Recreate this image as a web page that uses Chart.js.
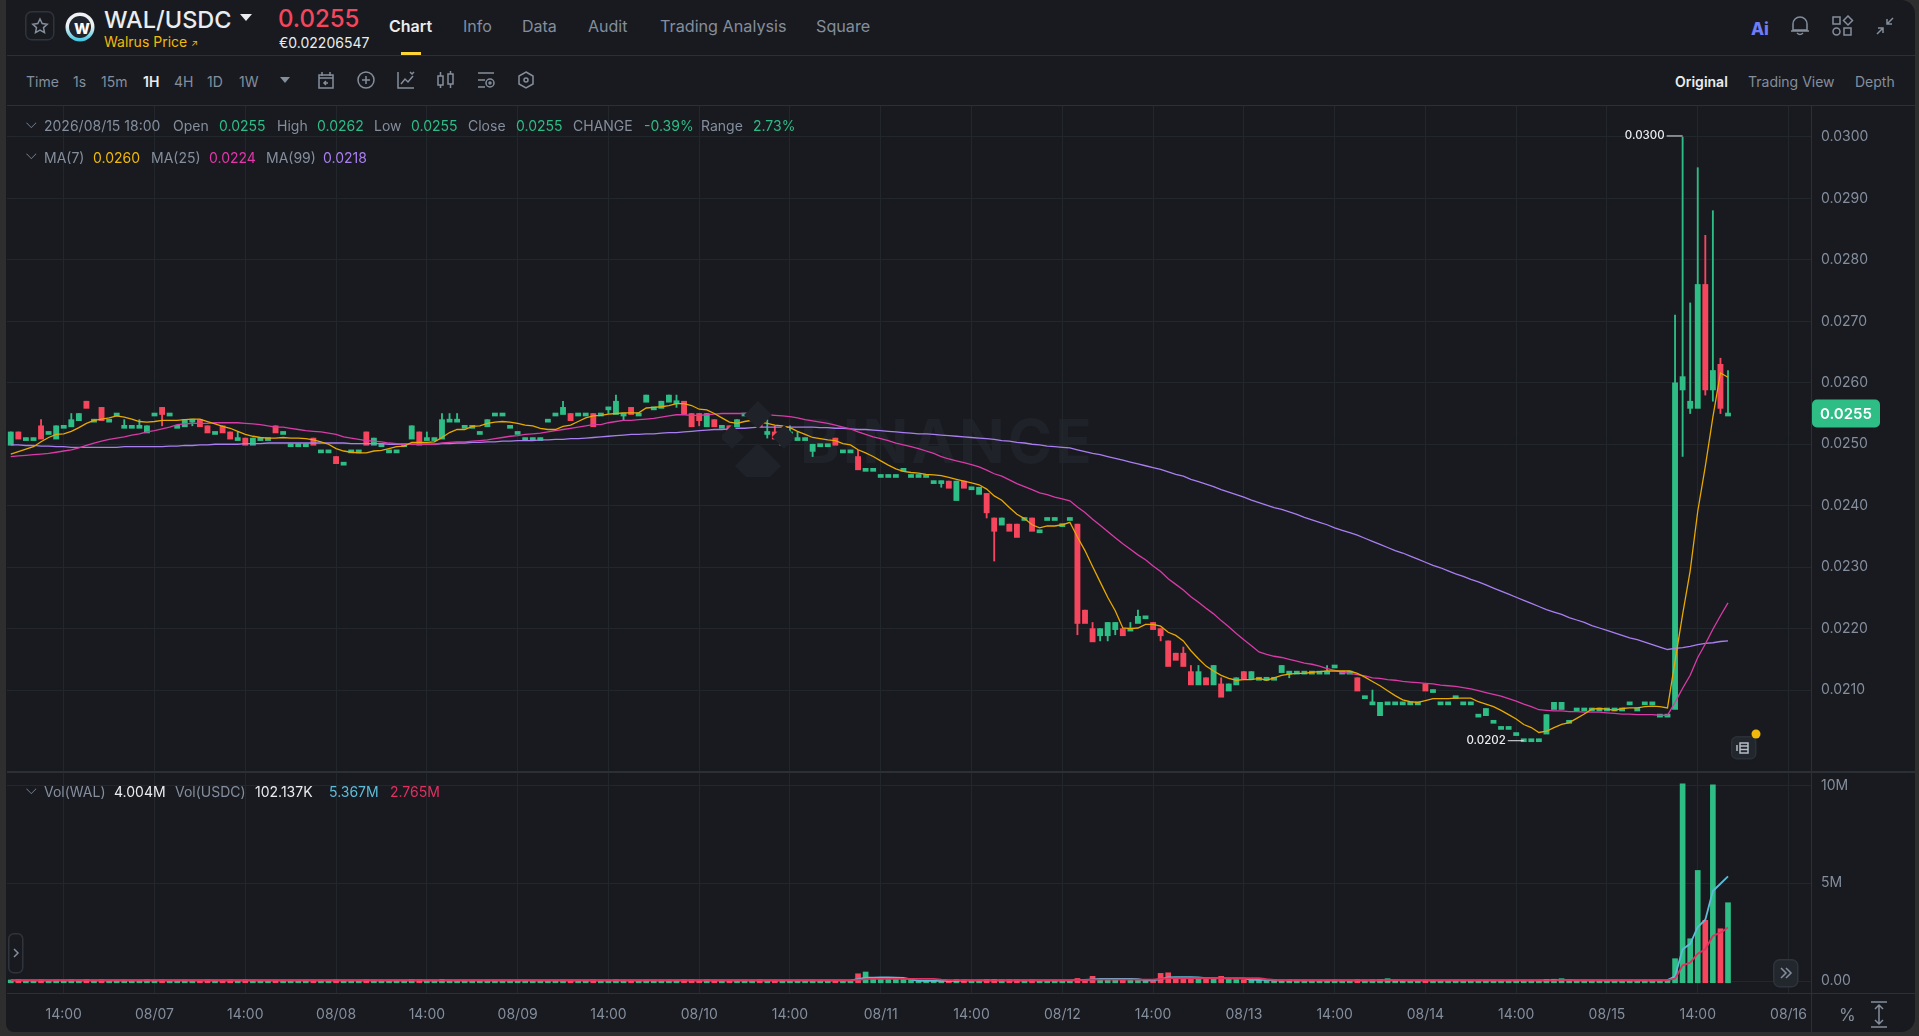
<!DOCTYPE html>
<html>
<head>
<meta charset="utf-8">
<title>WAL/USDC</title>
<script src="https://cdn.jsdelivr.net/npm/chart.js@4"></script>
<style>
html, body { margin: 0; padding: 0; width: 1919px; height: 1036px; overflow: hidden; background: #2e2e2e; }
#panel { position: absolute; left: 6px; top: 0; width: 1909px; height: 1032px; background: #181a20; border-radius: 0 14px 14px 8px; }
canvas { position: absolute; }
.t { position: absolute; white-space: nowrap; transform: translateY(-50%); font-family: Inter, sans-serif; font-size: 14px; color: #848e9c; z-index: 5; }
.line { position: absolute; background: #2b2f36; z-index: 4; }
svg { position: absolute; z-index: 5; fill: none; stroke: #848e9c; stroke-width: 1.5; }
#mark { position: absolute; left: 800px; top: 405px; font: 700 60px Inter, sans-serif; letter-spacing: 3px; color: #1f2229; }
</style>
</head>
<body>
<div id="panel"></div>
<div id="mark">BINANCE</div>
<svg style="left:722px;top:401px;stroke:none;fill:#1f2229" width="72" height="76" viewBox="0 0 72 76"><path d="M36 0l14 14-14 14-14-14zM10 24l12 12-12 12L-2 36zM62 24l12 12-12 12-12-12zM36 42l23 23-11 11H24L13 65z"/></svg>
<canvas id="priceChart" width="1908" height="665" style="left:7px;top:106px"></canvas>
<canvas id="volChart" width="1908" height="259" style="left:7px;top:773px"></canvas>

<div class="line" style="left:7px;top:55px;width:1908px;height:1px"></div>
<div class="line" style="left:7px;top:105px;width:1908px;height:1px"></div>
<div class="line" style="left:7px;top:771px;width:1908px;height:2px"></div>
<div class="line" style="left:7px;top:993px;width:1908px;height:1px"></div>
<div class="line" style="left:1811px;top:105px;width:1px;height:927px"></div>
<!-- the plot runs a few pixels under the axis line, hide those grid ends but not the price tag -->
<div style="position:absolute;left:1812px;top:106px;width:4px;height:293px;background:#181a20;z-index:1"></div>
<div style="position:absolute;left:1812px;top:429px;width:4px;height:342px;background:#181a20;z-index:1"></div>
<div style="position:absolute;left:1812px;top:773px;width:4px;height:220px;background:#181a20;z-index:1"></div>
<div style="position:absolute;left:401px;top:52px;width:20px;height:3px;background:#fcd535;z-index:5"></div>

<!-- header icons -->
<svg style="left:25px;top:11px" width="30" height="30"><rect x=".75" y=".75" width="28" height="28" rx="6" stroke="#2f343c"/><path d="M15 8l2.2 4.6 5 .6-3.7 3.4 1 5L15 19.200l-4.500 2.400 1-5-3.700-3.400 5-.6z"/></svg>
<svg style="left:65px;top:12px;stroke:none" width="30" height="30"><defs><linearGradient id="lg" x1="0" y1="0" x2="0" y2="1"><stop offset=".45" stop-color="#eef2f5"/><stop offset="1" stop-color="#39c6e0"/></linearGradient></defs><circle cx="15" cy="15" r="14.500" fill="url(#lg)"/><circle cx="15" cy="15" r="11" fill="#20242c"/></svg>
<svg style="left:240px;top:14px;stroke:none;fill:#eaecef" width="12" height="8"><path d="M0 0h12L6 7z"/></svg>
<svg style="left:280px;top:77px;stroke:none;fill:#848e9c" width="10" height="7"><path d="M0 0h10L5 6z"/></svg>
<svg style="left:316px;top:70px" width="20" height="20"><path d="M3 5h14v13H3zM3 8h14M6 2v4M14 2v4M12 13H8M10 11l-2 2 2 2"/></svg>
<svg style="left:356px;top:70px" width="20" height="20"><circle cx="10" cy="10" r="8"/><path d="M6 10h8M10 6v8"/></svg>
<svg style="left:396px;top:70px" width="20" height="20"><path d="M2 2v16h16M5 14l4-5 3 3 5-6M14 2l2 2 2-2"/></svg>
<svg style="left:436px;top:70px" width="20" height="20"><path d="M2 6h5v9H2zM12 4h5v10h-5zM4.500 2v4M4.500 15v3M14.500 1v3M14.500 14v4"/></svg>
<svg style="left:476px;top:70px" width="20" height="20"><path d="M2 3h16M2 10h7M2 17h7"/><circle cx="14" cy="13" r="4"/><circle cx="14" cy="13" r="1"/></svg>
<svg style="left:516px;top:70px" width="20" height="20"><path d="M10 2l7 4v8l-7 4-7-4V6z"/><circle cx="10" cy="10" r="2"/></svg>
<svg style="left:1790px;top:15px" width="20" height="22"><path d="M3 15V9a7 7 0 0 1 14 0v6zM1 16h18M7 18q3 3 6 0"/></svg>
<svg style="left:1832px;top:15px" width="22" height="22"><rect x="1" y="2" width="7" height="7"/><path d="M16 1l4.500 4.500L16 10l-4.500-4.500z"/><circle cx="4.500" cy="16.500" r="3.500"/><rect x="12" y="13" width="7" height="7"/></svg>
<svg style="left:1876px;top:17px" width="18" height="18"><path d="M17 1l-6 6M11 2v5h5M1 17l6-6M7 16v-5H2"/></svg>
<svg style="left:1731px;top:736px" width="30" height="24"><rect x=".75" y=".75" width="24" height="22" rx="5" fill="#22262d" stroke="#2b2f36"/><path d="M9 7h8v10H9zM9 10h8M9 13.500h8M6 9v6" stroke="#b7bdc6"/></svg>
<svg style="left:1751px;top:729px;stroke:none;fill:#f0b90b" width="10" height="10"><circle cx="5" cy="5" r="4.500"/></svg>
<svg style="left:1773px;top:959px" width="26" height="29"><rect x=".75" y=".75" width="24" height="27" rx="6" fill="#22262d" stroke="#2f343c"/><path d="M8 9l5 5-5 5M13 9l5 5-5 5"/></svg>
<svg style="left:8px;top:933px" width="16" height="41"><rect x=".75" y=".75" width="14" height="39" rx="5" stroke="#2f343c"/><path d="M6 16l4 4-4 4"/></svg>
<svg style="left:1870px;top:1001px" width="18" height="28"><path d="M1 1h16M1 26h16M9 4v19M5 8l4-4 4 4M5 19l4 4 4-4"/></svg>

<script>
// all prices below are in ticks of 0.0001, volumes in millions
var tickSize = 0.0001;

var xTickLabels = ['14:00','08/07','14:00','08/08','14:00','08/09','14:00','08/10','14:00','08/11',
    '14:00','08/12','14:00','08/13','14:00','08/14','14:00','08/15','14:00','08/16'];
var priceTicks = [210,220,230,240,250,260,270,280,290,300];
var volTicks = [0,5,10];

var opens = [
    250,252,251,251,253,252,251,253,253,254, 257,254,256,254,255,253,253,253,252,255,
    256,255,253,253,254,254,253,252,253,252, 251,251,250,251,251,253,252,250,250,250,
    251,249,249,248,247,249,249,252,250,250, 249,249,250,251,252,251,251,251,254,254,
    253,253,252,253,255,255,253,252,251,251, 251,254,255,255,255,255,255,255,255,256,
    255,255,256,255,257,256,256,257,257,257, 255,255,253,254,253,253,253,255,255,255,
    252,252,250,251,251,251,249,250,250,251, 249,249,248,246,246,245,245,245,246,245,
    245,245,244,244,244,241,244,243,242,242, 238,237,237,237,238,238,236,238,238,237,
    238,237,223,220,219,219,220,220,220,221, 222,221,220,218,216,216,213,211,212,211,
    211,210,211,213,212,212,212,212,213,213, 213,213,213,213,213,214,213,213,212,209,
    208,206,208,208,208,208,208,211,210,208, 208,209,208,208,206,206,205,204,204,203,
    202,202,202,203,207,207,205,207,207,207, 207,207,207,207,208,207,208,208,206,206,
    207,259,256,256,276,259,263,255];
var closes = [
    252,251,251,251,251,252,253,253,254,255, 256,254,254,254,255,253,253,253,253,255,
    255,255,253,254,254,253,252,252,252,251, 251,250,251,251,251,252,252,250,250,250,
    250,249,249,247,247,249,249,250,251,250, 249,249,250,253,250,251,251,254,254,254,
    253,253,252,254,255,255,253,252,251,251, 251,254,255,256,254,255,255,253,255,256,
    257,255,255,255,258,256,257,258,257,255, 253,254,255,253,253,252,254,255,255,253,
    252,251,251,252,251,251,250,250,250,250, 249,249,246,246,246,245,245,245,246,245,
    245,245,244,244,243,244,243,243,243,239, 236,238,236,235,238,236,236,238,238,237,
    238,221,221,218,220,221,221,219,220,222, 222,220,219,214,215,214,211,213,211,214,
    209,211,212,212,213,212,212,212,214,213, 213,213,213,213,213,214,213,213,210,209,
    208,208,208,208,208,208,208,210,210,208, 208,209,208,208,206,207,205,204,204,203,
    202,202,202,206,208,208,205,207,207,207, 207,207,207,207,208,207,208,208,206,206,
    260,261,257,276,259,262,256,255];
var highs = [
    252,252,251,251,254,252,253,253,255,255, 257,254,256,254,255,254,253,254,253,255,
    256,255,253,254,254,254,253,252,253,252, 252,251,251,251,251,253,252,250,250,250,
    251,249,249,248,247,249,249,252,251,250, 249,249,250,253,252,252,251,255,255,255,
    253,253,252,254,255,255,253,252,251,251, 251,254,255,257,255,255,255,255,255,256,
    258,255,256,255,258,256,257,258,258,257, 255,255,255,254,253,253,254,255,255,255,
    254,253,251,253,252,251,250,250,250,251, 249,249,249,246,246,245,245,245,246,245,
    245,245,244,244,244,244,244,243,243,242, 238,238,237,237,238,238,236,238,238,237,
    238,237,223,221,220,221,221,220,221,223, 222,221,220,218,216,217,214,214,212,214,
    212,211,212,213,213,212,212,212,214,213, 213,213,213,213,214,214,213,213,212,209,
    210,208,208,208,208,208,208,211,210,208, 208,209,208,208,206,207,205,204,204,203,
    202,202,202,206,208,208,205,207,207,207, 207,207,207,207,208,207,208,208,206,206,
    271,300,273,295,284,288,264,262];
var lows = [
    250,251,251,251,251,252,251,253,253,254, 256,254,254,254,255,253,253,253,252,255,
    253,255,253,253,253,253,252,252,252,251, 251,250,250,251,251,252,252,250,250,250,
    250,249,249,247,247,249,249,250,250,250, 249,249,250,251,250,251,251,251,254,254,
    253,253,252,253,255,255,253,252,251,251, 251,254,255,255,254,255,255,253,255,255,
    255,254,255,255,257,256,256,257,256,255, 253,253,253,253,253,252,253,255,255,253,
    251,251,250,251,251,251,248,250,250,250, 249,249,246,246,246,245,245,245,246,245,
    245,245,244,243,243,241,243,243,242,238, 231,237,236,235,238,236,236,238,238,237,
    238,219,221,218,218,218,219,219,220,221, 222,220,218,214,215,214,211,211,211,211,
    209,210,211,212,212,212,212,212,213,212, 213,213,213,213,213,214,213,213,210,209,
    208,206,208,208,208,208,208,210,210,208, 208,209,208,208,206,206,205,204,204,203,
    202,202,202,203,207,207,205,207,207,207, 207,207,207,207,208,207,208,208,206,206,
    207,248,255,256,258,257,255,255];

var ma7 = [
    248.4,248.8,249.2,249.6,250.4,251.1,251.6,251.7,252.1,252.7, 253.4,253.9,254.1,254.3,254.6,254.4,254.1,253.7,253.6,253.7,
    253.9,253.9,253.9,254.0,254.1,254.1,253.7,253.3,252.9,252.6, 252.1,251.6,251.3,251.1,251.0,251.0,251.1,251.0,251.0,250.9,
    250.7,250.4,250.0,249.3,248.9,248.7,248.6,248.6,248.9,249.0, 249.3,249.6,249.7,250.3,250.3,250.3,250.4,251.1,251.9,252.4,
    252.4,252.9,253.0,253.4,253.6,253.7,253.6,253.4,253.1,253.0, 252.6,252.4,252.4,252.9,253.1,253.7,254.3,254.6,254.7,254.9,
    255.0,255.1,255.1,255.1,255.9,256.0,256.1,256.3,256.6,256.6, 256.3,255.7,255.6,255.0,254.3,253.6,253.4,253.7,253.9,253.6,
    253.4,253.1,253.0,252.7,252.1,251.6,251.1,250.9,250.7,250.6, 250.1,249.9,249.1,248.6,248.0,247.3,246.6,246.0,245.6,245.4,
    245.3,245.1,245.0,244.9,244.6,244.3,244.0,243.7,243.4,242.7, 241.6,240.9,239.7,238.6,237.9,236.9,236.4,236.7,236.7,236.9,
    237.3,234.9,232.7,230.1,227.6,225.1,222.9,220.1,220.0,220.1, 220.7,220.7,220.4,219.4,218.9,218.0,216.4,215.1,213.9,213.1,
    212.4,211.9,211.6,211.7,211.7,211.9,211.6,212.0,212.4,212.6, 212.7,212.7,212.9,213.0,213.1,213.1,213.1,213.1,212.7,212.1,
    211.4,210.7,209.9,209.1,208.4,208.1,208.0,208.3,208.6,208.6, 208.6,208.7,208.7,208.7,208.1,207.7,207.3,206.7,206.0,205.3,
    204.4,203.9,203.1,203.3,203.9,204.4,204.7,205.4,206.1,206.9, 207.0,206.9,206.7,207.0,207.1,207.1,207.3,207.4,207.3,207.1,
    214.7,222.3,229.4,239.1,246.4,254.4,261.6,260.9];
var ma25 = [
    248.0,248.1,248.2,248.3,248.4,248.5,248.7,248.9,249.1,249.4, 249.8,250.2,250.5,250.8,251.0,251.2,251.5,251.7,252.0,252.2,
    252.5,252.8,253.2,253.3,253.4,253.4,253.4,253.5,253.5,253.5, 253.5,253.4,253.3,253.2,253.0,252.8,252.8,252.6,252.4,252.2,
    252.1,252.0,251.8,251.6,251.2,251.0,250.8,250.6,250.5,250.4, 250.2,250.1,250.0,250.0,250.0,250.0,250.0,250.2,250.3,250.4,
    250.4,250.5,250.6,250.7,250.9,251.1,251.3,251.4,251.6,251.7, 251.8,252.0,252.2,252.4,252.6,252.8,253.0,253.2,253.2,253.5,
    253.7,253.9,253.9,254.0,254.1,254.2,254.4,254.6,254.8,254.8, 254.7,254.7,254.8,254.9,255.0,255.0,255.0,255.0,255.0,255.0,
    254.8,254.7,254.6,254.5,254.3,254.0,253.8,253.6,253.4,253.1, 252.8,252.5,252.0,251.6,251.2,250.9,250.6,250.2,249.9,249.6,
    249.3,248.9,248.5,248.0,247.6,247.3,247.0,246.7,246.3,245.8, 245.2,244.8,244.2,243.6,243.1,242.6,242.1,241.8,241.4,241.1,
    240.8,239.8,238.9,237.8,236.8,235.8,234.8,233.8,232.9,232.0, 231.2,230.2,229.3,228.1,227.2,226.3,225.2,224.3,223.3,222.4,
    221.3,220.3,219.2,218.2,217.2,216.2,215.8,215.5,215.3,215.0, 214.7,214.4,214.2,213.9,213.5,213.2,212.9,212.7,212.5,212.3,
    212.0,211.9,211.7,211.6,211.4,211.3,211.2,211.1,211.0,210.8, 210.7,210.6,210.4,210.2,209.9,209.6,209.3,209.0,208.6,208.2,
    207.7,207.3,206.8,206.7,206.6,206.6,206.5,206.5,206.4,206.4, 206.4,206.3,206.2,206.1,206.1,206.0,206.0,206.0,205.9,205.9,
    208.0,210.3,212.4,215.3,217.5,219.9,222.1,224.2];
var ma99 = [
    249.9,249.9,249.8,249.8,249.7,249.7,249.6,249.6,249.5,249.5, 249.5,249.5,249.5,249.5,249.5,249.6,249.6,249.6,249.6,249.6,
    249.6,249.7,249.7,249.8,249.8,249.9,249.9,250.0,250.0,250.0, 250.0,250.1,250.1,250.1,250.2,250.2,250.2,250.2,250.2,250.2,
    250.2,250.2,250.2,250.2,250.2,250.1,250.1,250.1,250.1,250.1, 250.0,250.0,250.0,250.0,250.0,250.0,250.0,250.1,250.1,250.2,
    250.2,250.3,250.3,250.4,250.4,250.5,250.5,250.6,250.6,250.6, 250.7,250.7,250.8,250.8,250.9,250.9,251.0,251.1,251.2,251.3,
    251.4,251.5,251.6,251.6,251.7,251.7,251.8,251.9,251.9,252.0, 252.1,252.2,252.3,252.4,252.4,252.5,252.6,252.6,252.7,252.8,
    252.8,252.8,252.8,252.8,252.8,252.8,252.8,252.7,252.7,252.6, 252.6,252.5,252.4,252.4,252.3,252.2,252.1,252.0,251.9,251.8,
    251.7,251.7,251.6,251.5,251.4,251.3,251.2,251.1,251.0,250.9, 250.8,250.6,250.5,250.3,250.2,250.0,249.9,249.7,249.6,249.5,
    249.4,249.1,248.8,248.5,248.3,248.0,247.7,247.4,247.1,246.8, 246.5,246.2,245.9,245.5,245.1,244.8,244.3,243.9,243.5,243.1,
    242.6,242.2,241.8,241.4,240.9,240.5,240.1,239.7,239.4,239.0, 238.6,238.1,237.7,237.3,236.9,236.4,236.0,235.6,235.2,234.7,
    234.2,233.7,233.2,232.7,232.3,231.8,231.3,230.8,230.3,229.9, 229.4,228.9,228.5,228.0,227.6,227.1,226.6,226.1,225.6,225.1,
    224.6,224.1,223.6,223.1,222.7,222.3,221.8,221.4,221.0,220.5, 220.1,219.7,219.3,218.9,218.5,218.2,217.8,217.4,217.0,216.6,
    216.8,216.9,217.1,217.4,217.6,217.7,217.9,218.0];

var volumes = [
    .05,.06,.03,.02,.05,.03,.04,.02,.05,.04, .06,.03,.05,.02,.03,.04,.02,.03,.05,.03,
    .05,.02,.03,.04,.03,.04,.05,.02,.04,.05, .03,.05,.04,.02,.03,.04,.02,.03,.03,.02,
    .04,.03,.02,.05,.03,.02,.03,.05,.04,.02, .03,.02,.03,.06,.05,.03,.02,.07,.04,.03,
    .03,.02,.03,.04,.03,.02,.03,.02,.02,.03, .02,.03,.03,.04,.04,.02,.03,.05,.02,.03,
    .05,.03,.04,.02,.04,.03,.03,.04,.03,.05, .05,.04,.05,.04,.02,.04,.03,.03,.02,.05,
    .03,.04,.03,.03,.02,.02,.04,.02,.02,.03, .02,.03,.37,.46,.13,.12,.12,.11,.10,.09,
    .04,.03,.03,.04,.05,.08,.05,.03,.04,.07, .08,.05,.06,.05,.03,.05,.03,.02,.03,.02,
    .03,.13,.08,.24,.09,.06,.08,.06,.05,.06, .03,.05,.39,.42,.11,.13,.14,.10,.09,.10,
    .24,.08,.07,.06,.08,.07,.05,.06,.04,.05, .04,.03,.03,.02,.03,.04,.02,.03,.06,.04,
    .05,.06,.12,.03,.02,.02,.02,.04,.03,.03, .02,.03,.02,.02,.03,.03,.03,.02,.02,.02,
    .03,.02,.02,.08,.09,.12,.03,.03,.02,.02, .02,.03,.02,.02,.03,.02,.02,.02,.03,.04,
    1.14,10.08,2.16,5.65,3.10,10.03,2.67,4.00];
var volMa5 = [
    .03,.03,.03,.03,.03,.03,.03,.03,.03,.03, .03,.03,.03,.03,.03,.03,.03,.03,.03,.03,
    .03,.03,.03,.03,.03,.03,.03,.03,.03,.03, .03,.03,.03,.03,.03,.03,.03,.03,.03,.03,
    .03,.03,.03,.03,.03,.03,.03,.03,.03,.03, .03,.03,.03,.03,.03,.03,.03,.03,.03,.03,
    .03,.03,.03,.03,.03,.03,.03,.03,.03,.03, .03,.03,.03,.03,.03,.03,.03,.03,.03,.03,
    .03,.03,.03,.03,.03,.03,.03,.03,.03,.03, .03,.03,.03,.03,.03,.03,.03,.03,.03,.03,
    .03,.03,.03,.03,.03,.03,.03,.03,.03,.03, .03,.03,.09,.17,.17,.18,.18,.17,.16,.08,
    .01,.01,.01,.01,.01,.01,.03,.03,.03,.03, .03,.03,.03,.03,.03,.03,.03,.03,.03,.03,
    .03,.05,.06,.08,.11,.11,.11,.11,.11,.10, .03,.03,.10,.18,.20,.20,.20,.19,.15,.15,
    .15,.13,.13,.13,.06,.06,.06,.03,.03,.03, .03,.03,.03,.03,.03,.03,.03,.03,.03,.03,
    .03,.03,.04,.03,.03,.03,.03,.03,.03,.03, .03,.03,.03,.03,.03,.03,.03,.03,.03,.03,
    .03,.03,.03,.03,.04,.04,.04,.03,.03,.03, .03,.03,.03,.03,.03,.03,.03,.03,.03,.05,
    .24,1.62,1.90,2.76,3.13,4.60,4.97,5.35];
var volMa10 = [
    .03,.03,.03,.03,.03,.03,.03,.03,.03,.03, .03,.03,.03,.03,.03,.03,.03,.03,.03,.03,
    .03,.03,.03,.03,.03,.03,.03,.03,.03,.03, .03,.03,.03,.03,.03,.03,.03,.03,.03,.03,
    .03,.03,.03,.03,.03,.03,.03,.03,.03,.03, .03,.03,.03,.03,.03,.03,.03,.03,.03,.03,
    .03,.03,.03,.03,.03,.03,.03,.03,.03,.03, .03,.03,.03,.03,.03,.03,.03,.03,.03,.03,
    .03,.03,.03,.03,.03,.03,.03,.03,.03,.03, .03,.03,.03,.03,.03,.03,.03,.03,.03,.03,
    .03,.03,.03,.03,.03,.03,.03,.03,.03,.03, .03,.03,.06,.10,.11,.11,.11,.11,.11,.11,
    .11,.11,.11,.07,.05,.04,.04,.03,.03,.03, .03,.03,.03,.03,.03,.03,.03,.03,.03,.03,
    .03,.05,.05,.07,.07,.07,.07,.07,.07,.07, .07,.07,.11,.13,.14,.14,.14,.14,.14,.14,
    .14,.14,.14,.14,.14,.14,.09,.06,.04,.04, .03,.03,.03,.03,.03,.03,.03,.03,.03,.03,
    .03,.03,.04,.04,.04,.03,.03,.03,.03,.03, .03,.03,.03,.03,.03,.03,.03,.03,.03,.03,
    .03,.03,.03,.03,.03,.04,.04,.03,.03,.03, .03,.03,.03,.03,.03,.03,.03,.03,.03,.04,
    .12,.80,.94,1.40,1.62,2.30,2.47,2.74];

// 239 slots, the x axis runs on past the last candle; a label every 12 candles from slot 7
var categories = [];
for (var i = 0; i < 239; i++) {
    categories.push((i - 7) % 12 === 0 && i >= 7 ? xTickLabels[(i - 7) / 12] : '');
}
var xTickSlots = xTickLabels.map(function (l, n) { return { value: 7 + n * 12 }; });

var upColor = '#2ebd85', downColor = '#f6465d', gridColor = '#22272c', axisText = '#848e9c';
var pick = function (ctx) { return closes[ctx.dataIndex] >= opens[ctx.dataIndex] ? upColor : downColor; };
var pair = function (a, b) { return a.map(function (v, n) { return [v, b[n]]; }); };

// tick labels must not eat into the plot area
function noPadding(s) {
    s.paddingTop = 0; s.paddingBottom = 0; s.paddingLeft = 0; s.paddingRight = 0;
}
function xAxis(showLabels) {
    return {
        grid: { color: gridColor, offset: false, drawTicks: false },
        border: { display: false },
        afterBuildTicks: function (s) { s.ticks = xTickSlots.slice(); },
        afterFit: function (s) { s.height = showLabels ? 39 : 0; noPadding(s); },
        ticks: { display: showLabels, autoSkip: false, maxRotation: 0, padding: 13, color: axisText, font: { family: 'Inter', size: 14 } }
    };
}
function yAxis(min, max, ticks, format) {
    return {
        position: 'right', min: min, max: max,
        grid: { color: gridColor, drawTicks: false },
        border: { display: false },
        afterBuildTicks: function (s) { s.ticks = ticks.map(function (v) { return { value: v }; }); },
        afterFit: function (s) { s.width = 100; noPadding(s); },
        ticks: { padding: 6, color: axisText, font: { family: 'Inter', size: 14 }, callback: format }
    };
}
function maLine(data, color, order, width) {
    return { type: 'line', data: data, borderColor: color, borderWidth: width, pointRadius: 0, tension: 0, order: order };
}

// flat candles sit just under their price, other bodies run one pixel past their lower end
var candleNudge = {
    id: 'candleNudge',
    afterDatasetsUpdate: function (chart) {
        chart.getDatasetMeta(3).data.forEach(function (el) {
            if (Math.abs(el.y - el.base) <= 3.01) { el.y += 2.5; el.base += 2.5; }
            else if (el.y > el.base) { el.y += 1; }
            else { el.base += 1; }
        });
    }
};

// last price tag and the high/low marks
var priceMarks = {
    id: 'priceMarks',
    afterDraw: function (chart) {
        var c = chart.ctx, x = chart.scales.x, y = chart.scales.y;
        var last = closes.length - 1;
        var yLast = y.getPixelForValue(closes[last]);
        c.save();
        c.fillStyle = upColor;
        c.beginPath();
        c.roundRect(x.right - 3, yLast - 14, 68, 28, 5);
        c.fill();
        c.fillStyle = '#fff';
        c.font = '600 15px Inter';
        c.textBaseline = 'middle';
        c.textAlign = 'center';
        c.fillText((closes[last] * tickSize).toFixed(4), x.right + 31, yLast + 1);

        [highs.indexOf(Math.max.apply(null, highs)), lows.indexOf(Math.min.apply(null, lows))].forEach(function (n, k) {
            var v = k === 0 ? highs[n] : lows[n];
            var px = x.getPixelForValue(n), py = y.getPixelForValue(v) + (k === 0 ? -1 : 1.5);
            c.strokeStyle = '#eaecef';
            c.lineWidth = 1;
            c.beginPath();
            c.moveTo(px - 16, py);
            c.lineTo(px, py);
            c.stroke();
            c.fillStyle = '#eaecef';
            c.font = '500 11.5px Inter';
            c.textAlign = 'right';
            c.fillText((v * tickSize).toFixed(4), px - 18, py);
        });
        c.restore();
    }
};

new Chart(document.getElementById('priceChart'), {
    type: 'bar',
    data: {
        labels: categories,
        datasets: [
            maLine(ma7, '#e8a800', 1, 1.3),
            maLine(ma25, '#d93aa7', 2, 1.3),
            maLine(ma99, '#a97ef0', 3, 1.3),
            { data: pair(opens, closes), backgroundColor: pick, barThickness: 5.2, minBarLength: 3, grouped: false, borderWidth: 0, order: 4 },
            { data: pair(lows, highs), backgroundColor: pick, barThickness: 1.2, grouped: false, borderWidth: 0, order: 5 }
        ]
    },
    options: {
        responsive: false,
        animation: false,
        layout: { padding: 0 },
        plugins: { legend: { display: false }, tooltip: { enabled: false } },
        scales: {
            x: xAxis(false),
            y: yAxis(196.83, 305.04, priceTicks, function (v) { return (v * tickSize).toFixed(4); })
        }
    },
    plugins: [candleNudge, priceMarks]
});

new Chart(document.getElementById('volChart'), {
    type: 'bar',
    data: {
        labels: categories,
        datasets: [
            maLine(volMa10, '#e0315f', 1, 1.8),
            maLine(volMa5, '#5dbcd8', 2, 1.8),
            { data: volumes, backgroundColor: pick, barThickness: 5, base: -0.09, grouped: false, borderWidth: 0, order: 3 }
        ]
    },
    options: {
        responsive: false,
        animation: false,
        layout: { padding: 0 },
        plugins: { legend: { display: false }, tooltip: { enabled: false } },
        scales: {
            x: xAxis(true),
            y: yAxis(-0.613, 10.63, volTicks, function (v) { return v === 0 ? '0.00' : v + 'M'; })
        }
    }
});

// page text around the charts
function t(text, x, y, color, size, weight) {
    var s = document.createElement('span');
    s.className = 't';
    s.textContent = text;
    s.style.left = x + 'px';
    s.style.top = y + 'px';
    if (color) s.style.color = color;
    if (size) s.style.fontSize = size + 'px';
    if (weight) s.style.fontWeight = weight;
    document.body.appendChild(s);
}
var up = '#2ebd85', white = '#eaecef';
t('W', 74, 28, '#fff', 15, 800);
t('WAL/USDC', 104, 19, white, 23.5, 500);
t('Walrus Price', 104, 41, '#f0b90b', 14);
t('↗', 191, 42, '#f0b90b', 9);
t('0.0255', 278, 18, '#f6465d', 24, 500);
t('€0.02206547', 279, 42, white, 14);
t('Chart', 389, 26, white, 16, 600);
t('Info', 463, 26, '#848e9c', 16);
t('Data', 522, 26, '#848e9c', 16);
t('Audit', 588, 26, '#848e9c', 16);
t('Trading Analysis', 660, 26, '#848e9c', 16.2);
t('Square', 816, 26, '#848e9c', 16.2);
t('Ai', 1751, 29, '#6f7cf7', 17, 800);

t('Time', 26, 81); t('1s', 73, 81); t('15m', 101, 81);
t('1H', 143, 81, white, 14, 600);
t('4H', 174, 81); t('1D', 207, 81); t('1W', 239, 81);
t('Original', 1675, 81, white, 14, 600);
t('Trading View', 1748, 81);
t('Depth', 1855, 81);

t('⌵', 26, 123, '#848e9c', 14); t('⌵', 26, 154, '#848e9c', 14); t('⌵', 26, 789, '#848e9c', 14);
t('2026/08/15 18:00', 44, 125);
t('Open', 173, 125); t('0.0255', 219, 125, up);
t('High', 277, 125); t('0.0262', 317, 125, up);
t('Low', 374, 125); t('0.0255', 411, 125, up);
t('Close', 468, 125); t('0.0255', 516, 125, up);
t('CHANGE', 573, 125); t('-0.39%', 644, 125, up);
t('Range', 701, 125); t('2.73%', 753, 125, up);
t('MA(7)', 44, 157); t('0.0260', 93, 157, '#f0b90b');
t('MA(25)', 151, 157); t('0.0224', 209, 157, '#e535ab');
t('MA(99)', 266, 157); t('0.0218', 323, 157, '#a97ef0');
t('Vol(WAL)', 44, 791); t('4.004M', 114, 791, white);
t('Vol(USDC)', 175, 791); t('102.137K', 255, 791, white);
t('5.367M', 329, 791, '#5dbcd8'); t('2.765M', 390, 791, '#e0315f');
t('%', 1839, 1015, '#848e9c', 17);
</script>
</body>
</html>
